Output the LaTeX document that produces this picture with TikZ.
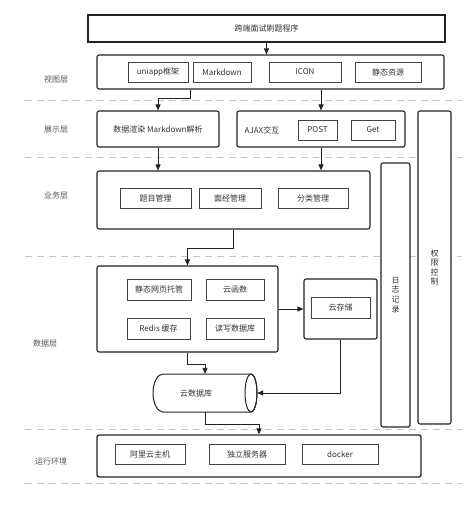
\documentclass[tikz,border=0pt]{standalone}
\usepackage{fontspec}
\setmainfont{Noto Sans CJK SC}
\usetikzlibrary{arrows.meta,positioning,calc}
\definecolor{ArchInk}{HTML}{222222}
\definecolor{ArchText}{HTML}{333333}
\definecolor{ArchMuted}{HTML}{555555}
\definecolor{ArchGrid}{HTML}{C4C4C4}

\begin{document}
\begin{tikzpicture}[
    x=1pt, y=-1pt,
    font=\fontsize{8}{9.6}\selectfont,
    text=ArchText,
    outer/.style={
      draw=ArchInk,
      line width=1.1pt,
      fill=white,
      rounded corners=2pt,
      inner sep=0pt
    },
    item/.style={
      draw=ArchInk!85,
      line width=0.8pt,
      fill=white,
      inner sep=0pt,
      minimum height=20pt
    },
    layername/.style={text=ArchMuted},
    sep/.style={draw=ArchGrid, line width=0.8pt, dash pattern=on 7pt off 5pt},
    arr/.style={draw=ArchInk, line width=0.9pt, -{Triangle[length=6pt,width=5pt]}}
  ]
  \useasboundingbox (0,0) rectangle (474,505);

  % Layer separators
  \foreach \ly in {100,157,256,429,483}
    \draw[sep] (25,\ly) -- (462,\ly);

  % Layer names
  \node[layername] (nview) at (56,80)  {视图层};
  \node[layername] (nshow) at (56,130) {展示层};
  \node[layername] (nbiz)  at (56,195) {业务层};
  \node[layername] (ndata) at (45,343) {数据层};
  \node[layername] (nrun)  at (51,461) {运行环境};

  % Cross-cutting concerns
  \node[outer, minimum width=33pt, minimum height=313pt, align=center] (auth) at (434.5,267.5) {权\\限\\控\\制};
  \node[outer, minimum width=29pt, minimum height=264pt, align=center] (log)  at (395.5,295)   {日\\志\\记\\录};

  % Application
  \node[outer, rounded corners=0pt, line width=1.3pt, minimum width=357pt, minimum height=27pt] (title) at (266.5,28.5) {跨端面试刷题程序};

  % View layer
  \node[outer, minimum width=347pt, minimum height=34pt] (view) at (270.5,72) {};
  \node[item, minimum width=60pt] (uniapp) at (158,72) {uniapp框架};
  \node[item, minimum width=58pt] (mdA)    at (222,72) {Markdown};
  \node[item, minimum width=72pt] (icon)   at (305,72) {ICON};
  \node[item, minimum width=66pt] (assets) at (388,72) {静态资源};
  \coordinate (gapA) at ($(uniapp.east)!.5!(mdA.west)$);

  % Display layer
  \node[outer, minimum width=122pt, minimum height=36pt] (render) at (158,129) {数据渲染 Markdown解析};
  \node[outer, minimum width=168pt, minimum height=36pt] (ajax)   at (321,129) {};
  \node (ajaxname) at (262,130) {AJAX交互};
  \node[item, minimum width=39pt] (post) at (317.5,130) {POST};
  \node[item, minimum width=44pt] (get)  at (373,130)   {Get};

  % Business layer
  \node[outer, minimum width=273pt, minimum height=58pt] (biz) at (233.5,200) {};
  \node[item, minimum width=71pt] (topic) at (155.5,198) {题目管理};
  \node[item, minimum width=62pt] (exper) at (230,198)   {面经管理};
  \node[item, minimum width=70pt] (categ) at (313,198)   {分类管理};

  % Data layer
  \node[outer, minimum width=181pt, minimum height=86pt] (data) at (187.5,309) {};
  \node[item, minimum width=64pt, minimum height=21pt] (hosting) at (159,289.5)   {静态网页托管};
  \node[item, minimum width=58pt, minimum height=21pt] (cfunc)   at (235,289.5)   {云函数};
  \node[item, minimum width=63pt, minimum height=21pt] (redis)   at (158.5,328.5) {Redis 缓存};
  \node[item, minimum width=58pt, minimum height=21pt] (rwdb)    at (235,328.5)   {读写数据库};
  \node[outer, minimum width=73pt, minimum height=60pt] (store) at (340.5,309) {};
  \node[item, minimum width=59pt, minimum height=21pt] (oss) at (340.5,307.5) {云存储};

  % Cloud database (cylinder lying on its side)
  \draw[draw=ArchInk, line width=1pt, fill=white]
    (251,374) -- (163,374) arc[start angle=270, end angle=90, x radius=10, y radius=19]
    -- (251,412) arc[start angle=90, end angle=-90, x radius=6, y radius=19] -- cycle;
  \draw[draw=ArchInk, line width=1pt] (251,393) ellipse[x radius=6, y radius=19];
  \node[minimum width=104pt, minimum height=38pt, inner sep=0pt] (db) at (205,393) {};
  \node (dbname) at (196,393) {云数据库};

  % Runtime
  \node[outer, line width=1.3pt, minimum width=324pt, minimum height=42pt] (run) at (259,456) {};
  \node[item, minimum width=70pt] (aliyun) at (150,454) {阿里云主机};
  \node[item, minimum width=76pt] (server) at (247,454) {独立服务器};
  \node[item, minimum width=76pt] (docker) at (340,454) {docker};

  % Flow
  \draw[arr] (title.south) -- (title.south |- view.north);
  \draw[arr] (gapA |- view.south) -- ++(0,9) -| (render.north);
  \draw[arr] (ajax.north |- view.south) -- (ajax.north);
  \draw[arr] (render.south) -- (render.south |- biz.north);
  \draw[arr] (ajax.south) -- (ajax.south |- biz.north);
  \draw[arr] (biz.south) -- ++(0,19) -| (data.north);
  \draw[arr] (data.east |- store.west) -- (store.west);
  \draw[arr] (data.south) -- ++(0,12) -| (db.north);
  \draw[arr] (store.south) |- (db.east);
  \draw[arr] (db.south) -- ++(0,12) -| (run.north);

\end{tikzpicture}
\end{document}
